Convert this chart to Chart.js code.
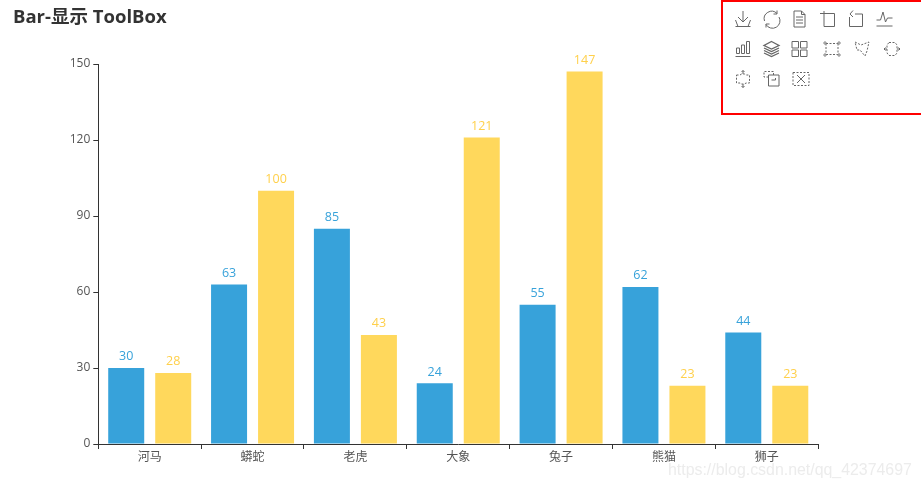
<!DOCTYPE html>
<html>
<head>
<meta charset="utf-8">
<title>Bar-显示 ToolBox</title>
<script src="https://cdn.jsdelivr.net/npm/chart.js@4"></script>
<style>
    html, body { margin: 0; padding: 0; background: #fff; overflow: hidden; }
    #wrap { position: relative; width: 921px; height: 488px; }
    canvas { position: absolute; left: 0; top: 0; }
    #toolbox { position: absolute; left: 721px; top: 0; width: 200px; height: 115px; box-sizing: border-box;
        border: 2px solid #f00; border-right: 0; }
    #icons { position: absolute; left: 0; top: 0; }
    #icons g { fill: none; stroke: #666; stroke-width: 1; }
    #mark { position: absolute; left: 668px; top: 461px; font: 15.9px "Liberation Sans", Arial, sans-serif;
        color: #ececec; white-space: nowrap; }
</style>
</head>
<body>
<div id="wrap">
    <canvas id="barChart" width="921" height="488"></canvas>
    <div id="toolbox"></div>
    <svg id="icons" width="921" height="120">
        <!-- row 1 -->
        <g transform="translate(743,19)"><path d="M0 -8V3M-5 -2L0 3L5 -2M-7.5 1L-5 7.5H5L7.5 1M-7.5 7.5H7.5"/></g>
        <g transform="translate(771.5,19)"><path d="M-7 2A7.5 7.5 0 0 1 5.5 -5.5M7.5 -2A7.5 7.5 0 0 1 -5.5 5.5M5.5 -8.5V-5H2M-5.5 8.5V5H-2"/></g>
        <g transform="translate(799.5,19)"><path d="M-5.5 -8H2L5.5 -4.5V8H-5.5ZM2 -8V-4.5H5.5M-3.5 -2H3.5M-3.5 1H3.5M-3.5 4H3.5"/></g>
        <g transform="translate(828,19)"><path d="M-8 -5.5H6.5V7.5H-4V-8"/></g>
        <g transform="translate(856,19)"><path d="M-1 -5H6.5V7.5H-6.5V-2M-3 -8.5L-6 -5L-3 -2"/></g>
        <g transform="translate(884.5,19)"><path d="M-8 7H8M-8 1H-4L-1.5 -7L1 3L3 -1H8"/></g>
        <!-- row 2 -->
        <g transform="translate(743,49)"><path d="M-7.5 7.5H7.5M-6.5 -1H-3.5V4.5H-6.5ZM-1.5 -4H1.5V4.5H-1.5ZM3.5 -7.5H6.5V4.5H3.5Z"/></g>
        <g transform="translate(771.5,49)"><path stroke-width="1.3" d="M0 -7.5L7.5 -3.5L0 0L-7.5 -3.5ZM-7.5 -1L0 2.5L7.5 -1M-7.5 1.5L0 5L7.5 1.5M-7.5 4L0 7.5L7.5 4"/></g>
        <g transform="translate(799.5,49)"><path d="M-7.5 -7.5H-1V-1H-7.5ZM1 -7.5H7.5V-1H1ZM-7.5 1H-1V7.5H-7.5ZM1 1H7.5V7.5H1Z"/></g>
        <g transform="translate(832,49)"><path stroke-dasharray="2 1.5" d="M-6 -5.5H6M-6 5.5H6M-6 -5.5V5.5M6 -5.5V5.5"/><path stroke="#888" d="M-8 -7H-6V-5H-8ZM6 -7H8V-5H6ZM-8 5H-6V7H-8ZM6 5H8V7H6Z"/></g>
        <g transform="translate(862,49)"><path stroke-dasharray="2 1.5" d="M-7 -7L-1 -4L7 -7L5 2L3 7L-2 1L-5 1Z"/></g>
        <g transform="translate(892,49)"><path stroke-dasharray="2 1.5" d="M-3 -6.5H3L5 -4V4L3 6.5H-3L-5 4V-4Z"/><path d="M-5 0H-8M-6.5 -1.5L-8 0L-6.5 1.5M5 0H8M6.5 -1.5L8 0L6.5 1.5"/></g>
        <!-- row 3 -->
        <g transform="translate(743,79)"><path stroke-dasharray="2 1.5" d="M-6.5 -4H-3L-1.5 -5H1.5L3 -4H6.5V4H3L1.5 5H-1.5L-3 4H-6.5Z"/><path d="M0 -5V-8.5M-1.5 -7L0 -8.5L1.5 -7M0 5V8.5M-1.5 7L0 8.5L1.5 7"/></g>
        <g transform="translate(771.5,79)"><path stroke-dasharray="2 1.5" d="M-3 -2H-7.5V-7.5H2V-4"/><path d="M-3 -4H7.5V7H-3ZM-3 -4V-1M0 1H4V-1"/></g>
        <g transform="translate(801,79)"><path stroke-dasharray="2 1.5" d="M-8 -6.5H8V6.5H-8Z"/><path d="M-4 -4L4 4M4 -4L-4 4"/></g>
    </svg>
    <div id="mark">https://blog.csdn.net/qq_42374697</div>
</div>
<script>
const categories = ['河马', '蟒蛇', '老虎', '大象', '兔子', '熊猫', '狮子'];
const seriesA = [30, 63, 85, 24, 55, 62, 44];
const seriesB = [28, 100, 43, 121, 147, 23, 23];
const yTicks = [0, 30, 60, 90, 120, 150];

const fontFamily = '"Open Sans", "Noto Sans CJK SC", sans-serif';

// value labels on top of each bar
const barLabels = {
    id: 'barLabels',
    afterDatasetsDraw(chart) {
        const ctx = chart.ctx;
        ctx.save();
        ctx.font = '12.5px ' + fontFamily;
        ctx.textAlign = 'center';
        ctx.textBaseline = 'bottom';
        chart.data.datasets.forEach(function (ds, i) {
            ctx.fillStyle = ds.labelColor;
            chart.getDatasetMeta(i).data.forEach(function (bar, j) {
                ctx.fillText(ds.data[j], bar.x, bar.y - 5);
            });
        });
        ctx.restore();
    }
};

new Chart(document.getElementById('barChart').getContext('2d'), {
    type: 'bar',
    data: {
        labels: categories,
        datasets: [
            { label: 'A', data: seriesA, backgroundColor: '#37a2da', labelColor: '#37a2da',
              categoryPercentage: 0.914, barPercentage: 0.766 },
            { label: 'B', data: seriesB, backgroundColor: '#ffd85c', labelColor: '#ffd04b',
              categoryPercentage: 0.914, barPercentage: 0.766 }
        ]
    },
    options: {
        responsive: false,
        animation: false,
        layout: { padding: { left: 13, right: 102.8, top: 7, bottom: 0 } },
        plugins: {
            legend: { display: false },
            tooltip: { enabled: false },
            title: {
                display: true,
                text: 'Bar-显示 ToolBox',
                align: 'start',
                color: '#333',
                font: { family: fontFamily, size: 18.5, weight: 'bold', lineHeight: 1.2 },
                padding: { top: 0, bottom: 34.8 }
            }
        },
        scales: {
            x: {
                afterFit(scale) { scale.height = 44; },
                border: { color: '#333', width: 1 },
                grid: { drawOnChartArea: false, tickLength: 5, tickColor: '#333', offset: true },
                ticks: { color: '#555', font: { family: fontFamily, size: 12 }, padding: 1, maxRotation: 0 }
            },
            y: {
                min: 0,
                max: 150,
                afterFit(scale) { scale.width = 85.3; },
                afterBuildTicks(scale) { scale.ticks = yTicks.map(function (v) { return { value: v }; }); },
                border: { color: '#333', width: 1 },
                grid: { drawOnChartArea: false, tickLength: 5, tickColor: '#333' },
                ticks: { color: '#555', font: { family: fontFamily, size: 12 }, padding: 3 }
            }
        }
    },
    plugins: [barLabels]
});
</script>
</body>
</html>
